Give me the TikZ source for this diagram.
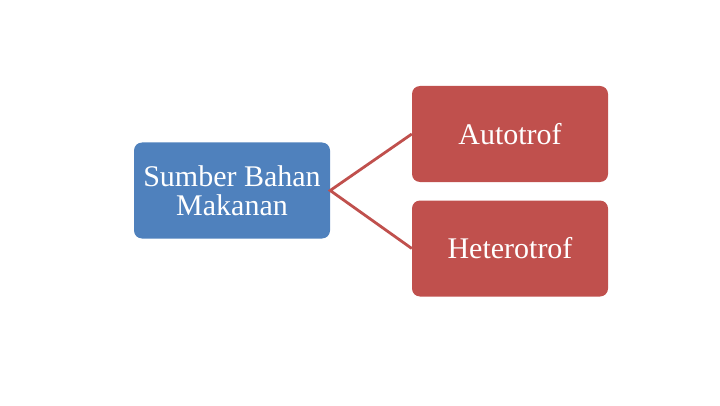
\documentclass[tikz,border=0pt]{standalone}
\usepackage{fontspec}
\setmainfont{Liberation Serif}
\usepackage{tikz}
\usetikzlibrary{arrows}

\definecolor{srcblue}{HTML}{4F81BD}
\definecolor{leafred}{HTML}{C0504D}

\begin{document}
\begin{tikzpicture}[x=1pt,y=1pt,
  box node/.style={rectangle,rounded corners=8pt,minimum width=196pt,minimum height=96pt,
    text=white,align=center,font=\fontsize{30}{29}\selectfont},
  src node/.style={box node,fill=srcblue},
  leaf node/.style={box node,fill=leafred}]
  \useasboundingbox (0,0) rectangle (720,405);

  \node[src node] (sbm) at (232,214.5) {Sumber Bahan\\Makanan};
  \node[leaf node] (auto) at (510,271) {Autotrof};
  \node[leaf node] (hetero) at (510,156.5) {Heterotrof};

  \draw[leafred,line width=2.8pt] (auto.west) -- (sbm.east) -- (hetero.west);
\end{tikzpicture}
\end{document}
